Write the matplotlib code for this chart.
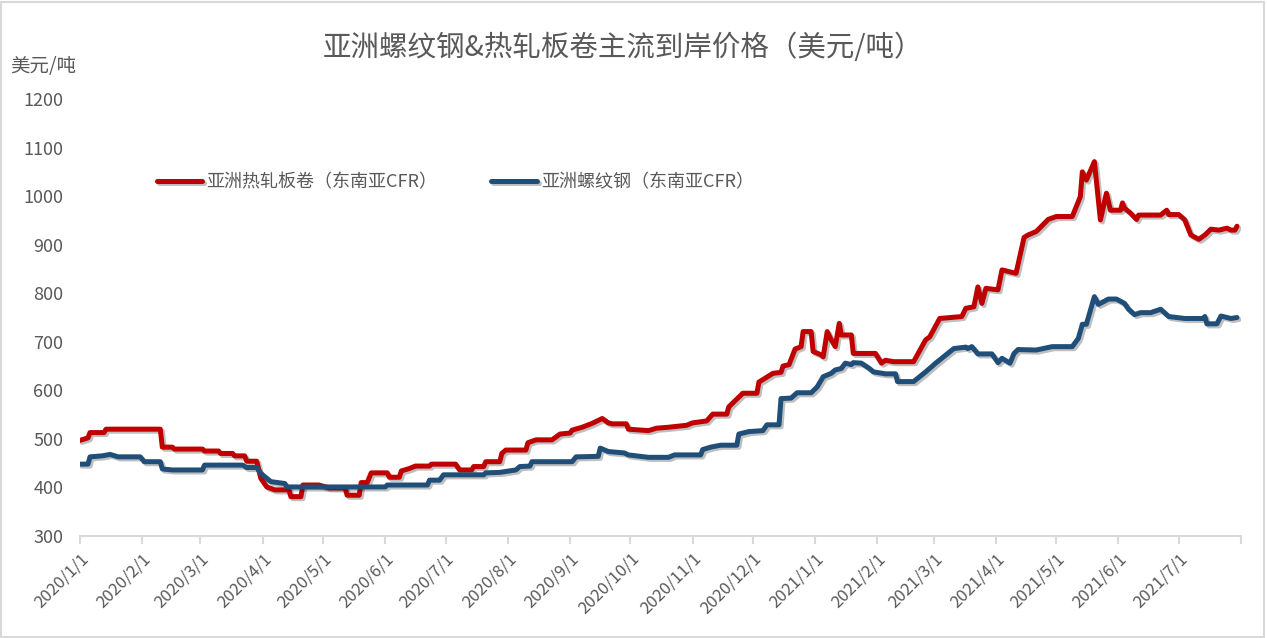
import matplotlib
matplotlib.use("Agg")
import matplotlib.pyplot as plt
import matplotlib.patheffects as pe
import pandas as pd

plt.rcParams['font.family'] = ['Noto Sans CJK SC', 'DejaVu Sans']

# 亚洲热轧板卷（东南亚CFR）
hrc_dates = [
    '2020-01-01', '2020-01-05', '2020-01-06', '2020-01-13', '2020-01-14', '2020-02-10',
    '2020-02-11', '2020-02-16', '2020-02-17', '2020-03-02', '2020-03-03', '2020-03-10',
    '2020-03-11', '2020-03-17', '2020-03-18', '2020-03-23', '2020-03-24', '2020-03-29',
    '2020-03-31', '2020-04-03', '2020-04-07', '2020-04-14', '2020-04-15', '2020-04-20',
    '2020-04-21', '2020-04-29', '2020-05-04', '2020-05-12', '2020-05-13', '2020-05-19',
    '2020-05-20', '2020-05-23', '2020-05-25', '2020-06-02', '2020-06-03', '2020-06-08',
    '2020-06-09', '2020-06-13', '2020-06-16', '2020-06-23', '2020-06-24', '2020-07-06',
    '2020-07-08', '2020-07-14', '2020-07-15', '2020-07-20', '2020-07-21', '2020-07-28',
    '2020-07-29', '2020-07-31', '2020-08-10', '2020-08-11', '2020-08-15', '2020-08-23',
    '2020-08-27', '2020-09-01', '2020-09-02', '2020-09-07', '2020-09-12', '2020-09-17',
    '2020-09-20', '2020-09-22', '2020-09-29', '2020-09-30', '2020-10-10', '2020-10-14',
    '2020-10-20', '2020-10-29', '2020-11-01', '2020-11-08', '2020-11-11', '2020-11-18',
    '2020-11-19', '2020-11-26', '2020-12-03', '2020-12-04', '2020-12-11', '2020-12-15',
    '2020-12-16', '2020-12-19', '2020-12-22', '2020-12-25', '2020-12-26', '2020-12-30',
    '2020-12-31', '2021-01-04', '2021-01-05', '2021-01-07', '2021-01-09', '2021-01-11',
    '2021-01-13', '2021-01-14', '2021-01-19', '2021-01-20', '2021-01-31', '2021-02-03',
    '2021-02-05', '2021-02-09', '2021-02-19', '2021-02-25', '2021-02-27', '2021-03-04',
    '2021-03-15', '2021-03-17', '2021-03-21', '2021-03-23', '2021-03-25', '2021-03-27',
    '2021-04-02', '2021-04-04', '2021-04-11', '2021-04-15', '2021-04-17', '2021-04-21',
    '2021-04-22', '2021-04-27', '2021-05-01', '2021-05-09', '2021-05-13', '2021-05-14',
    '2021-05-16', '2021-05-20', '2021-05-23', '2021-05-26', '2021-05-28', '2021-06-02',
    '2021-06-03', '2021-06-04', '2021-06-07', '2021-06-10', '2021-06-11', '2021-06-22',
    '2021-06-25', '2021-06-26', '2021-07-01', '2021-07-04', '2021-07-07', '2021-07-11',
    '2021-07-14', '2021-07-17', '2021-07-21', '2021-07-25', '2021-07-27', '2021-07-29',
    '2021-07-30',
]
hrc_values = [
    497, 502, 513, 513, 520, 520,
    483, 483, 479, 479, 475, 475,
    470, 470, 465, 465, 454, 454,
    419, 401, 395, 395, 381, 381,
    405, 405, 399, 399, 384, 384,
    410, 410, 430, 430, 421, 421,
    434, 439, 444, 444, 448, 448,
    436, 436, 443, 443, 453, 453,
    470, 477, 477, 492, 498, 498,
    510, 512, 518, 524, 532, 542,
    533, 531, 531, 520, 517, 522,
    524, 528, 533, 537, 551, 551,
    566, 594, 594, 617, 635, 637,
    650, 653, 685, 690, 721, 721,
    680, 673, 669, 721, 704, 690,
    738, 714, 714, 676, 676, 656,
    662, 659, 659, 704, 710, 748,
    752, 769, 772, 813, 779, 810,
    807, 848, 841, 915, 920, 927,
    931, 952, 958, 958, 999, 1050,
    1033, 1071, 951, 1006, 971, 971,
    986, 975, 965, 952, 961, 961,
    971, 962, 962, 951, 920, 911,
    920, 932, 930, 934, 930, 930,
    938,
]

# 亚洲螺纹钢（东南亚CFR）
rebar_dates = [
    '2020-01-01', '2020-01-05', '2020-01-06', '2020-01-12', '2020-01-16', '2020-01-20',
    '2020-01-31', '2020-02-02', '2020-02-10', '2020-02-11', '2020-02-16', '2020-03-02',
    '2020-03-03', '2020-03-22', '2020-03-24', '2020-03-29', '2020-03-31', '2020-04-05',
    '2020-04-12', '2020-04-13', '2020-06-01', '2020-06-02', '2020-06-22', '2020-06-23',
    '2020-06-28', '2020-06-30', '2020-07-20', '2020-07-21', '2020-07-28', '2020-08-05',
    '2020-08-07', '2020-08-12', '2020-08-13', '2020-09-02', '2020-09-04', '2020-09-15',
    '2020-09-16', '2020-09-20', '2020-09-28', '2020-09-30', '2020-10-10', '2020-10-20',
    '2020-10-23', '2020-11-05', '2020-11-06', '2020-11-10', '2020-11-15', '2020-11-23',
    '2020-11-24', '2020-11-29', '2020-12-06', '2020-12-08', '2020-12-14', '2020-12-15',
    '2020-12-20', '2020-12-23', '2020-12-30', '2021-01-02', '2021-01-05', '2021-01-09',
    '2021-01-11', '2021-01-14', '2021-01-16', '2021-01-19', '2021-01-20', '2021-01-24',
    '2021-01-28', '2021-01-30', '2021-02-05', '2021-02-10', '2021-02-11', '2021-02-19',
    '2021-02-22', '2021-02-25', '2021-03-02', '2021-03-05', '2021-03-11', '2021-03-17',
    '2021-03-18', '2021-03-20', '2021-03-23', '2021-03-30', '2021-04-02', '2021-04-04',
    '2021-04-08', '2021-04-10', '2021-04-12', '2021-04-21', '2021-04-29', '2021-05-09',
    '2021-05-12', '2021-05-14', '2021-05-16', '2021-05-20', '2021-05-22', '2021-05-27',
    '2021-05-31', '2021-06-04', '2021-06-06', '2021-06-09', '2021-06-12', '2021-06-17',
    '2021-06-22', '2021-06-26', '2021-07-04', '2021-07-13', '2021-07-14', '2021-07-15',
    '2021-07-20', '2021-07-22', '2021-07-27', '2021-07-30',
]
rebar_values = [
    448, 448, 463, 465, 468, 463,
    463, 453, 453, 438, 436, 436,
    446, 446, 441, 441, 429, 412,
    408, 401, 401, 405, 405, 415,
    415, 426, 426, 430, 431, 436,
    443, 444, 453, 453, 463, 464,
    481, 474, 471, 467, 462, 462,
    467, 467, 478, 483, 487, 487,
    510, 515, 517, 529, 529, 583,
    584, 595, 595, 607, 628, 635,
    642, 645, 656, 653, 657, 656,
    645, 638, 634, 634, 618, 618,
    628, 638, 656, 666, 686, 689,
    686, 690, 675, 675, 657, 666,
    656, 676, 684, 683, 690, 690,
    707, 736, 736, 793, 777, 788,
    788, 779, 767, 756, 760, 760,
    767, 752, 748, 748, 752, 737,
    737, 753, 748, 750,
]

month_ticks = pd.date_range('2020-01-01', '2021-08-01', freq='MS')
tick_labels = [f'{d.year}/{d.month}/{d.day}' for d in month_ticks[:-1]] + ['']

y_ticks = list(range(300, 1201, 100))

RED = '#C00000'
BLUE = '#1F4E79'
TXT = '#595959'


def make_chart():
    fig = plt.figure(figsize=(12.67, 6.38), dpi=100)
    ax = fig.add_axes([0.0631, 0.1599, 0.9164, 0.6849])

    shadow = [pe.SimpleLineShadow(offset=(1.5, -1.5), shadow_color='#000000', alpha=0.25),
              pe.Normal()]

    ax.plot(pd.to_datetime(hrc_dates), hrc_values, color=RED, linewidth=3.6,
            solid_joinstyle='round', solid_capstyle='round',
            label='亚洲热轧板卷（东南亚CFR）', path_effects=shadow)
    ax.plot(pd.to_datetime(rebar_dates), rebar_values, color=BLUE, linewidth=3.6,
            solid_joinstyle='round', solid_capstyle='round',
            label='亚洲螺纹钢（东南亚CFR）', path_effects=shadow)

    ax.set_xlim(month_ticks[0], month_ticks[-1])
    ax.set_ylim(300, 1200)
    ax.set_yticks(y_ticks)
    ax.set_xticks(month_ticks)
    ax.set_xticklabels(tick_labels, rotation=45, ha='right', rotation_mode='anchor')

    for side in ['top', 'right', 'left']:
        ax.spines[side].set_visible(False)
    ax.spines['bottom'].set_color('#D9D9D9')
    ax.spines['bottom'].set_linewidth(1.5)
    ax.tick_params(axis='x', colors='#D9D9D9', length=6, width=1.5, labelcolor=TXT,
                   labelsize=12, pad=4)
    ax.tick_params(axis='y', length=0, labelcolor=TXT, labelsize=13, pad=12)

    fig.text(0.4915, 0.925, '亚洲螺纹钢&热轧板卷主流到岸价格（美元/吨）',
             ha='center', va='center', fontsize=20.5, color=TXT, fontweight='medium')
    fig.text(0.008, 0.895, '美元/吨', ha='left', va='center', fontsize=14, color=TXT)

    ax.legend(loc='upper left', bbox_to_anchor=(0.052, 0.868), ncol=2, frameon=False,
              fontsize=13, labelcolor=TXT, handlelength=2.5, columnspacing=3.0,
              handletextpad=0.25)

    # light frame around the whole picture
    fig.patches.append(plt.Rectangle((0.001, 0.002), 0.997, 0.995, transform=fig.transFigure,
                                     fill=False, edgecolor='#D9D9D9', linewidth=1.5))

    fig.savefig('out.png', dpi=100)
    plt.close(fig)


if __name__ == "__main__":
    make_chart()
